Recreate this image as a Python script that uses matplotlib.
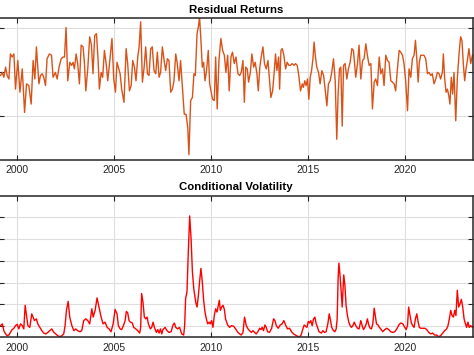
import matplotlib
matplotlib.use("Agg")
import matplotlib.pyplot as plt

plt.rcParams['font.family'] = ['Liberation Sans', 'DejaVu Sans']

# residual returns (decimal year, value)
ret_dates = [
    1999.14, 1999.23, 1999.31, 1999.40, 1999.48, 1999.57, 1999.65, 1999.74, 1999.83, 1999.91,
    2000.03, 2000.14, 2000.26, 2000.38, 2000.48, 2000.60, 2000.72, 2000.82, 2000.91, 2000.99,
    2001.12, 2001.20, 2001.29, 2001.37, 2001.46, 2001.54, 2001.66, 2001.77, 2001.85, 2001.97,
    2002.06, 2002.16, 2002.27, 2002.37, 2002.44, 2002.52, 2002.61, 2002.71, 2002.80, 2002.88,
    2002.95, 2003.04, 2003.12, 2003.21, 2003.30, 2003.40, 2003.47, 2003.54, 2003.64, 2003.74,
    2003.83, 2003.91, 2004.00, 2004.09, 2004.17, 2004.24, 2004.33, 2004.41, 2004.50, 2004.60,
    2004.67, 2004.77, 2004.89, 2004.98, 2005.07, 2005.15,
    2005.31, 2005.39, 2005.51, 2005.62, 2005.70, 2005.79, 2005.88, 2005.96, 2006.05, 2006.13,
    2006.22, 2006.29, 2006.37, 2006.46, 2006.55, 2006.63, 2006.72, 2006.80, 2006.89, 2006.97,
    2007.06, 2007.15, 2007.23, 2007.32, 2007.40, 2007.49, 2007.58, 2007.66, 2007.75, 2007.83,
    2007.92, 2008.01, 2008.09, 2008.18, 2008.26, 2008.35, 2008.43, 2008.54, 2008.62, 2008.71,
    2008.80, 2008.86, 2008.95, 2009.04, 2009.12, 2009.19, 2009.28, 2009.35, 2009.41, 2009.48,
    2009.55, 2009.62, 2009.69, 2009.77, 2009.86, 2009.93, 2010.00, 2010.08, 2010.17, 2010.24,
    2010.32, 2010.41, 2010.51, 2010.60, 2010.69, 2010.77, 2010.86, 2010.94, 2011.03, 2011.11,
    2011.20, 2011.29,
    2011.39, 2011.48, 2011.56, 2011.65, 2011.72, 2011.79, 2011.87, 2011.94, 2012.03, 2012.11,
    2012.20, 2012.28, 2012.37, 2012.44, 2012.52, 2012.59, 2012.68, 2012.76, 2012.85, 2012.94,
    2013.02, 2013.09, 2013.18, 2013.26, 2013.33, 2013.40, 2013.49, 2013.54, 2013.61, 2013.68,
    2013.76, 2013.85, 2013.93, 2014.02, 2014.10, 2014.19, 2014.28, 2014.36, 2014.45, 2014.53,
    2014.62, 2014.71, 2014.77, 2014.84, 2014.91, 2014.98, 2015.05, 2015.12, 2015.19, 2015.26,
    2015.32, 2015.39, 2015.46, 2015.55, 2015.63, 2015.72, 2015.81, 2015.89, 2015.98, 2016.06,
    2016.15, 2016.23, 2016.32, 2016.41, 2016.49, 2016.56, 2016.63, 2016.70, 2016.77, 2016.84,
    2016.92, 2017.01, 2017.09, 2017.18, 2017.27, 2017.35,
    2017.47, 2017.56, 2017.64, 2017.73, 2017.82, 2017.90, 2017.99, 2018.07, 2018.16, 2018.25,
    2018.33, 2018.42, 2018.50, 2018.59, 2018.68, 2018.76, 2018.85, 2018.93, 2019.02, 2019.11,
    2019.19, 2019.28, 2019.36, 2019.45, 2019.53, 2019.62, 2019.71, 2019.79, 2019.88, 2019.96,
    2020.05, 2020.14, 2020.22, 2020.31, 2020.39, 2020.48, 2020.55, 2020.62, 2020.69, 2020.75,
    2020.82, 2020.91, 2020.99, 2021.08, 2021.17, 2021.25, 2021.34, 2021.42, 2021.51, 2021.60,
    2021.68, 2021.77, 2021.85, 2021.94, 2021.99, 2022.06, 2022.13, 2022.20, 2022.27, 2022.33,
    2022.40, 2022.47, 2022.54, 2022.63, 2022.71, 2022.80, 2022.88, 2022.95, 2023.02, 2023.09,
    2023.16, 2023.23, 2023.31, 2023.40, 2023.49,
]
ret_values = [
    -0.009, -0.002, -0.013, 0.010, -0.009, -0.017, 0.040, 0.033, 0.040, -0.040,
    0.025, -0.047, 0.006, -0.093, -0.028, -0.032, -0.074, 0.025, -0.017, 0.056,
    -0.028, -0.009, -0.005, -0.013, -0.032, 0.029, 0.040, 0.037, -0.013, -0.002,
    -0.017, 0.010, 0.029, 0.033, 0.033, 0.100, -0.021, 0.021, 0.014, 0.021,
    0.006, 0.040, 0.018, -0.028, 0.060, 0.056, 0.018, -0.044, 0.006, 0.079,
    0.060, -0.005, 0.082, 0.086, 0.029, -0.040, -0.002, -0.013, 0.048, 0.014,
    -0.021, 0.021, 0.075, -0.017, -0.047, 0.021,
    -0.005, -0.040, -0.070, 0.052, 0.018, -0.044, -0.032, 0.025, 0.010, -0.021,
    0.033, 0.056, 0.113, -0.024, 0.010, 0.056, -0.005, -0.009, 0.052, 0.056,
    0.002, -0.005, 0.044, -0.013, -0.002, 0.056, 0.025, 0.002, 0.029, 0.025,
    -0.047, -0.040, -0.021, 0.040, 0.018, -0.021, 0.025, -0.044, -0.097, -0.097,
    -0.127, -0.189, -0.066, -0.059, -0.005, -0.009, 0.086, 0.102, 0.124, 0.071,
    0.010, 0.021, -0.021, 0.002, 0.048, -0.028, -0.044, -0.063, -0.066, 0.033,
    -0.085, 0.025, 0.075, 0.048, 0.037, -0.002, 0.037, -0.044, 0.033, 0.044,
    0.018, 0.033,
    -0.005, -0.009, -0.002, 0.025, -0.070, 0.010, 0.006, -0.024, -0.002, 0.040,
    0.010, 0.021, -0.005, -0.044, 0.010, 0.033, 0.056, 0.018, 0.006, 0.025,
    -0.021, -0.059, -0.044, -0.002, 0.040, 0.002, 0.033, -0.040, 0.048, 0.052,
    0.037, 0.006, 0.021, 0.014, 0.014, 0.018, 0.014, 0.018, 0.014, -0.009,
    -0.044, -0.028, -0.036, -0.021, -0.032, -0.017, -0.063, -0.013, 0.002, 0.029,
    0.067, 0.033, 0.010, -0.002, -0.028, 0.002, -0.009, -0.040, -0.078, -0.028,
    -0.021, -0.002, 0.029, -0.021, -0.154, -0.051, 0.006, 0.010, -0.124, 0.014,
    0.018, -0.017, 0.006, 0.021, 0.052, 0.048,
    -0.013, 0.018, 0.060, -0.017, 0.025, 0.029, 0.063, 0.037, 0.014, 0.018,
    -0.085, -0.024, -0.017, -0.032, 0.033, -0.005, 0.006, -0.032, 0.037, 0.025,
    0.021, -0.021, -0.024, -0.028, -0.044, 0.006, 0.048, 0.044, 0.037, 0.018,
    -0.024, -0.089, 0.006, -0.013, 0.029, 0.037, 0.071, 0.029, -0.024, 0.021,
    0.037, 0.037, 0.037, 0.029, -0.005, -0.002, -0.009, -0.005, -0.028, -0.017,
    -0.002, -0.005, -0.017, -0.002, 0.040, -0.017, -0.047, -0.040, -0.055, -0.074,
    -0.013, -0.051, -0.002, -0.112, -0.017, 0.040, 0.079, 0.071, 0.018, -0.021,
    0.006, 0.025, 0.052, 0.018, 0.037,
]

# conditional volatility
vol_dates = [
    1999.14, 1999.23, 1999.31, 1999.40, 1999.48, 1999.57, 1999.65, 1999.74, 1999.83, 1999.91,
    2000.00, 2000.08, 2000.17, 2000.26, 2000.34, 2000.41, 2000.48, 2000.55, 2000.65, 2000.75,
    2000.82, 2000.89, 2000.99, 2001.06, 2001.17, 2001.27, 2001.37, 2001.48, 2001.58, 2001.68,
    2001.78, 2001.89, 2001.99, 2002.09, 2002.20, 2002.30, 2002.40, 2002.47, 2002.54, 2002.63,
    2002.71, 2002.82, 2002.92, 2003.02, 2003.12, 2003.23, 2003.33, 2003.43, 2003.54, 2003.64,
    2003.74, 2003.85, 2003.92, 2004.02, 2004.12, 2004.22, 2004.33, 2004.43, 2004.53, 2004.64,
    2004.74, 2004.84, 2004.95, 2005.05, 2005.15,
    2005.22, 2005.31, 2005.39, 2005.48, 2005.57, 2005.63, 2005.70, 2005.77, 2005.84, 2005.94,
    2006.01, 2006.12, 2006.22, 2006.32, 2006.37, 2006.42, 2006.49, 2006.56, 2006.63, 2006.70,
    2006.77, 2006.87, 2006.94, 2007.01, 2007.08, 2007.18, 2007.25, 2007.32, 2007.39, 2007.46,
    2007.52, 2007.63, 2007.73, 2007.83, 2007.94, 2008.04, 2008.11, 2008.18, 2008.28, 2008.38,
    2008.49, 2008.59, 2008.64, 2008.69, 2008.76, 2008.83, 2008.90, 2008.97, 2009.04, 2009.11,
    2009.21, 2009.28, 2009.35, 2009.41, 2009.48, 2009.55, 2009.62, 2009.69, 2009.76, 2009.83,
    2009.90, 2009.96, 2010.03, 2010.10, 2010.17, 2010.24, 2010.31, 2010.38, 2010.43, 2010.48,
    2010.55, 2010.62, 2010.69, 2010.75, 2010.86, 2010.96, 2011.06, 2011.17, 2011.27,
    2011.39, 2011.48, 2011.56, 2011.65, 2011.73, 2011.82, 2011.91, 2011.99, 2012.08, 2012.16,
    2012.25, 2012.33, 2012.42, 2012.51, 2012.58, 2012.64, 2012.71, 2012.78, 2012.85, 2012.92,
    2013.02, 2013.13, 2013.23, 2013.30, 2013.37, 2013.47, 2013.57, 2013.67, 2013.76, 2013.85,
    2013.95, 2014.05, 2014.16, 2014.26, 2014.36, 2014.47, 2014.57, 2014.65, 2014.74, 2014.81,
    2014.88, 2014.95, 2015.02, 2015.08, 2015.15, 2015.22, 2015.29, 2015.36, 2015.43, 2015.50,
    2015.57, 2015.63, 2015.70, 2015.77, 2015.86, 2015.94, 2016.03, 2016.10, 2016.17, 2016.23,
    2016.32, 2016.39, 2016.46, 2016.51, 2016.56, 2016.60, 2016.65, 2016.72, 2016.77, 2016.82,
    2016.85, 2016.91, 2016.97, 2017.04, 2017.11, 2017.18, 2017.25, 2017.32,
    2017.39, 2017.47, 2017.56, 2017.64, 2017.73, 2017.80, 2017.87, 2017.94, 2018.01, 2018.07,
    2018.14, 2018.21, 2018.28, 2018.35, 2018.42, 2018.49, 2018.54, 2018.62, 2018.69, 2018.76,
    2018.86, 2018.97, 2019.07, 2019.17, 2019.28, 2019.38, 2019.48, 2019.59, 2019.69, 2019.79,
    2019.90, 2020.00, 2020.07, 2020.14, 2020.20, 2020.27, 2020.34, 2020.41, 2020.48, 2020.55,
    2020.62, 2020.69, 2020.75, 2020.82, 2020.93, 2021.03, 2021.13, 2021.24, 2021.34, 2021.44,
    2021.54, 2021.65, 2021.75, 2021.85, 2021.96, 2022.06, 2022.16, 2022.23, 2022.30, 2022.37,
    2022.44, 2022.51, 2022.58, 2022.64, 2022.71, 2022.78, 2022.85, 2022.92, 2022.99, 2023.06,
    2023.13, 2023.19, 2023.26, 2023.33, 2023.40, 2023.49,
]
vol_values = [
    0.0103, 0.0111, 0.0080, 0.0065, 0.0057, 0.0060, 0.0072, 0.0085, 0.0091, 0.0103,
    0.0109, 0.0088, 0.0111, 0.0103, 0.0088, 0.0196, 0.0149, 0.0103, 0.0095, 0.0157,
    0.0142, 0.0126, 0.0134, 0.0111, 0.0095, 0.0080, 0.0069, 0.0065, 0.0072, 0.0080,
    0.0088, 0.0072, 0.0065, 0.0057, 0.0052, 0.0057, 0.0065, 0.0103, 0.0173, 0.0214,
    0.0142, 0.0103, 0.0080, 0.0088, 0.0080, 0.0075, 0.0080, 0.0126, 0.0134, 0.0126,
    0.0111, 0.0180, 0.0142, 0.0173, 0.0230, 0.0188, 0.0142, 0.0111, 0.0119, 0.0095,
    0.0088, 0.0075, 0.0111, 0.0177, 0.0157,
    0.0103, 0.0088, 0.0085, 0.0103, 0.0126, 0.0168, 0.0162, 0.0126, 0.0119, 0.0115,
    0.0095, 0.0088, 0.0080, 0.0069, 0.0095, 0.0250, 0.0211, 0.0142, 0.0134, 0.0142,
    0.0111, 0.0088, 0.0095, 0.0119, 0.0095, 0.0072, 0.0085, 0.0069, 0.0088, 0.0065,
    0.0085, 0.0095, 0.0080, 0.0072, 0.0075, 0.0106, 0.0115, 0.0095, 0.0088, 0.0095,
    0.0065, 0.0060, 0.0103, 0.0227, 0.0257, 0.0443, 0.0605, 0.0504, 0.0350, 0.0273,
    0.0211, 0.0188, 0.0242, 0.0304, 0.0365, 0.0304, 0.0219, 0.0165, 0.0134, 0.0111,
    0.0119, 0.0111, 0.0126, 0.0095, 0.0149, 0.0180, 0.0165, 0.0196, 0.0219, 0.0173,
    0.0188, 0.0196, 0.0177, 0.0134, 0.0106, 0.0095, 0.0103, 0.0100, 0.0088,
    0.0072, 0.0065, 0.0060, 0.0072, 0.0142, 0.0103, 0.0088, 0.0080, 0.0072, 0.0080,
    0.0072, 0.0065, 0.0075, 0.0091, 0.0085, 0.0095, 0.0080, 0.0106, 0.0095, 0.0075,
    0.0072, 0.0091, 0.0134, 0.0126, 0.0103, 0.0091, 0.0106, 0.0111, 0.0126, 0.0106,
    0.0088, 0.0091, 0.0075, 0.0065, 0.0060, 0.0054, 0.0052, 0.0060, 0.0088, 0.0106,
    0.0100, 0.0095, 0.0122, 0.0115, 0.0126, 0.0103, 0.0134, 0.0142, 0.0111, 0.0095,
    0.0075, 0.0072, 0.0069, 0.0080, 0.0072, 0.0075, 0.0111, 0.0157, 0.0126, 0.0095,
    0.0080, 0.0075, 0.0088, 0.0134, 0.0319, 0.0389, 0.0342, 0.0257, 0.0188, 0.0281,
    0.0335, 0.0288, 0.0196, 0.0149, 0.0119, 0.0103, 0.0095, 0.0103,
    0.0119, 0.0103, 0.0091, 0.0088, 0.0126, 0.0103, 0.0085, 0.0095, 0.0111, 0.0134,
    0.0106, 0.0091, 0.0088, 0.0111, 0.0183, 0.0142, 0.0111, 0.0106, 0.0095, 0.0088,
    0.0075, 0.0085, 0.0091, 0.0085, 0.0075, 0.0072, 0.0075, 0.0088, 0.0106, 0.0115,
    0.0111, 0.0095, 0.0085, 0.0103, 0.0188, 0.0149, 0.0115, 0.0103, 0.0095, 0.0134,
    0.0157, 0.0119, 0.0095, 0.0091, 0.0091, 0.0091, 0.0085, 0.0072, 0.0065, 0.0069,
    0.0060, 0.0060, 0.0052, 0.0057, 0.0069, 0.0080, 0.0088, 0.0103, 0.0134, 0.0173,
    0.0149, 0.0142, 0.0173, 0.0149, 0.0265, 0.0188, 0.0203, 0.0223, 0.0188, 0.0134,
    0.0111, 0.0095, 0.0119, 0.0095, 0.0103, 0.0095,
]

year_ticks = [2000, 2005, 2010, 2015, 2020]
ret_ticks = [-0.1, 0, 0.1]
vol_ticks = [0.01, 0.02, 0.03, 0.04, 0.05, 0.06]

W, H = 474, 355
fig = plt.figure(figsize=(W / 100, H / 100), dpi=100)
ax1 = fig.add_axes([-1 / W, 1 - 159.5 / H, 474 / W, 141.2 / H])
ax2 = fig.add_axes([-1 / W, 1 - 337 / H, 474 / W, 141 / H])

dark = '#262626'


def style_axis(ax, title):
    ax.set_xlim(1999.06, 2023.52)
    ax.set_xticks(year_ticks)
    ax.set_xticklabels([str(y) for y in year_ticks])
    ax.grid(True, color='#dedede', linewidth=0.8)
    ax.set_axisbelow(True)
    # the y labels sit beyond the left edge of the picture, so none are drawn
    ax.tick_params(direction='in', length=3.3, width=0.8, color=dark,
                   labelcolor=dark, labelsize=7.5, pad=4,
                   top=True, right=True, labelleft=False)
    for sp in ax.spines.values():
        sp.set_color(dark)
        sp.set_linewidth(1.1)
    ax.set_title(title, fontsize=8.2, fontweight='bold', color='#000000', pad=4)


ax1.plot(ret_dates, ret_values, color='#D95319', linewidth=1.0)
ax1.set_ylim(-0.2, 0.121)
ax1.set_yticks(ret_ticks)
style_axis(ax1, 'Residual Returns')

ax2.plot(vol_dates, vol_values, color='#FF0000', linewidth=1.0)
ax2.set_ylim(0.0051, 0.0696)
ax2.set_yticks(vol_ticks)
style_axis(ax2, 'Conditional Volatility')

fig.savefig('out.png', dpi=100)
